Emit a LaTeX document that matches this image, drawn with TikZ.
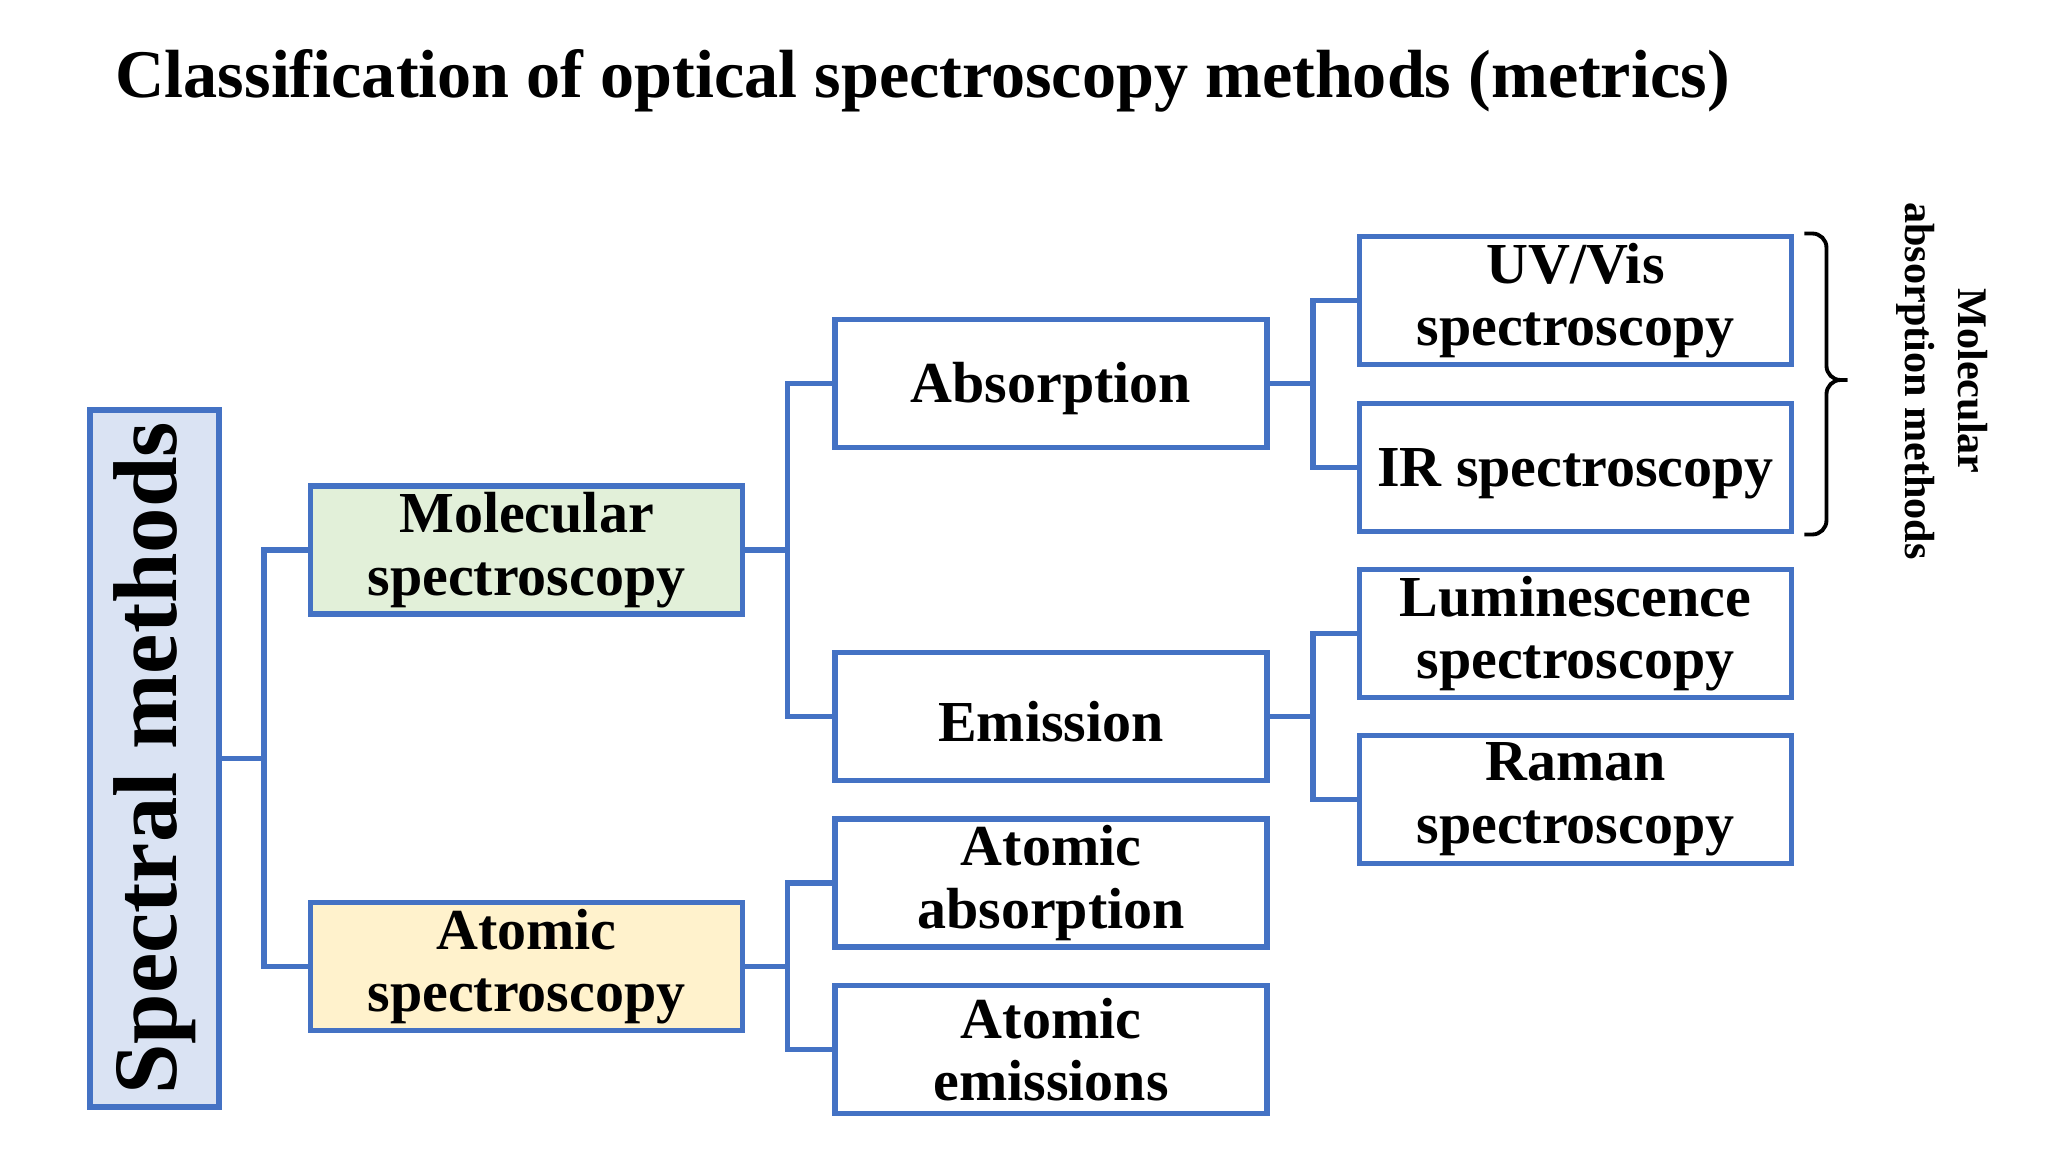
\documentclass[tikz,border=0pt]{standalone}
\usepackage{fontspec}
\setmainfont{Liberation Serif}
\usepackage{tikz}
\usetikzlibrary{positioning,calc}
\definecolor{boxblue}{HTML}{4472C4}
\definecolor{specfill}{HTML}{DAE3F3}
\definecolor{molfill}{HTML}{E2F0D9}
\definecolor{atomfill}{HTML}{FFF2CC}
\tikzset{
  every picture/.style={
    line join=miter,
  },
  % all method boxes share one frame; the strut drops the text a little
  methodbox/.style={draw=boxblue, line width=1.7pt, fill=white,
    minimum width=4.32cm, minimum height=1.28cm, inner sep=0pt,
    align=center, font=\fontsize{16.5}{17.8}\selectfont\bfseries,
    execute at begin node={\rule{0pt}{14.2pt}}},
  branch/.style={draw=boxblue, line width=1.6pt},
  bracket/.style={draw=black, line width=1.1pt, rounded corners=4pt},
}

\begin{document}
\begin{tikzpicture}
    \useasboundingbox (0,0) rectangle (20.48,-11.52);
    % Title
    \node[anchor=base west, inner sep=0pt, font=\fontsize{19.4}{23}\selectfont\bfseries] (title) at (1.15,-0.98)
        {Classification of optical spectroscopy methods (metrics)};
    % Root
    \node[methodbox, fill=specfill, minimum width=6.97cm, minimum height=1.29cm, rotate=90,
          font=\fontsize{25.8}{28}\selectfont\bfseries] (spec) at (1.545,-7.585) {Spectral methods};
    % Level 1
    \node[methodbox, fill=molfill] (mol) at (5.265,-5.50) {Molecular\\spectroscopy};
    \node[methodbox, fill=atomfill] (atom) at (5.265,-9.665) {Atomic\\spectroscopy};
    % Level 2
    \node[methodbox] (abs) at (10.51,-3.835) {Absorption};
    \node[methodbox] (emi) at (10.51,-7.165) {Emission};
    \node[methodbox] (aabs) at (10.51,-8.83) {Atomic\\absorption};
    \node[methodbox] (aemi) at (10.51,-10.495) {Atomic\\emissions};
    % Level 3
    \node[methodbox] (uv) at (15.755,-3.005) {UV/Vis\\spectroscopy};
    \node[methodbox] (ir) at (15.755,-4.675) {IR spectroscopy};
    \node[methodbox] (lum) at (15.755,-6.335) {Luminescence\\spectroscopy};
    \node[methodbox] (ram) at (15.755,-7.995) {Raman\\spectroscopy};
    % Elbow connectors
    \draw[branch] (spec.south) -- +(0.42,0) |- (mol.west);
    \draw[branch] (spec.south) -- +(0.42,0) |- (atom.west);
    \draw[branch] (mol.east) -- +(0.42,0) |- (abs.west);
    \draw[branch] (mol.east) -- +(0.42,0) |- (emi.west);
    \draw[branch] (atom.east) -- +(0.42,0) |- (aabs.west);
    \draw[branch] (atom.east) -- +(0.42,0) |- (aemi.west);
    \draw[branch] (abs.east) -- +(0.43,0) |- (uv.west);
    \draw[branch] (abs.east) -- +(0.43,0) |- (ir.west);
    \draw[branch] (emi.east) -- +(0.43,0) |- (lum.west);
    \draw[branch] (emi.east) -- +(0.43,0) |- (ram.west);
    % Brace and side label
    \coordinate (btop) at ([xshift=0.1cm]uv.north east);
    \coordinate (bbot) at ([xshift=0.1cm]ir.south east);
    \coordinate (btip) at ($(btop)!0.5!(bbot)+(0.43,0.04)$);
    \draw[bracket] (btop) -- ++(0.22,0) |- (btip);
    \draw[bracket] (bbot) -- ++(0.22,0) |- (btip);
    \node[rotate=-90, align=center, font=\fontsize{12}{15}\selectfont\bfseries] (side) at (19.42,-3.81)
        {Molecular\\absorption methods};
\end{tikzpicture}
\end{document}
